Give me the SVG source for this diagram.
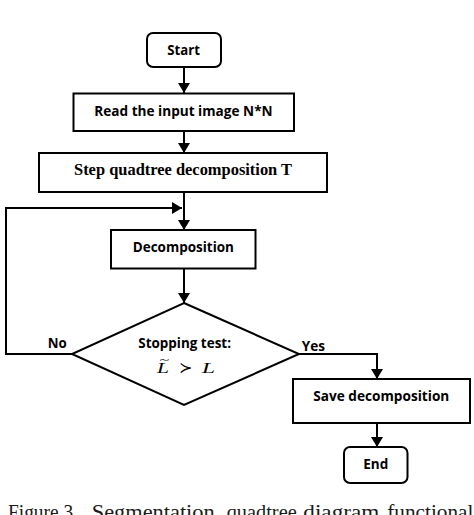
<svg xmlns="http://www.w3.org/2000/svg" width="474" height="515" viewBox="0 0 474 515">
<style>
.box{fill:#fff;stroke:#000;stroke-width:2}
.ln{fill:none;stroke:#000;stroke-width:2}
.sans{font-family:"Open Sans","Liberation Sans",sans-serif;font-weight:bold;font-size:14px;fill:#000}
.serifb{font-family:"Liberation Serif","Times New Roman",serif;font-weight:bold;font-size:16px;fill:#000}
.math{font-family:"Liberation Serif","Times New Roman",serif;font-style:italic;font-size:15px;fill:#000}
.cap{font-family:"Liberation Serif","Times New Roman",serif;font-size:21px;fill:#1a1a1a}
</style>
<defs>
<marker id="ah" markerUnits="userSpaceOnUse" markerWidth="12" markerHeight="12" refX="10" refY="6" orient="auto">
<path d="M0,0 L10,6 L0,12 Z" fill="#000"/>
</marker>
</defs>
<rect width="474" height="515" fill="#fff"/>
<g id="connectors">
<line class="ln" x1="184" y1="67" x2="184" y2="93" marker-end="url(#ah)"/>
<line class="ln" x1="184" y1="131" x2="184" y2="153" marker-end="url(#ah)"/>
<line class="ln" x1="184" y1="192" x2="184" y2="230" marker-end="url(#ah)"/>
<polyline class="ln" points="72,354 6,354 6,208 182,208" marker-end="url(#ah)"/>
<line class="ln" x1="184" y1="269" x2="184" y2="303" marker-end="url(#ah)"/>
<polyline class="ln" points="299,354 377,354 377,379" marker-end="url(#ah)"/>
<line class="ln" x1="377" y1="423" x2="377" y2="447" marker-end="url(#ah)"/>
<text class="sans" x="47.7" y="348.3" textLength="19" lengthAdjust="spacingAndGlyphs">No</text>
<text class="sans" x="301.7" y="350.5" textLength="23.3" lengthAdjust="spacingAndGlyphs">Yes</text>
</g>
<g id="start">
<rect class="box" x="147" y="33" width="74" height="34" rx="6"/>
<text class="sans" x="167.3" y="55" textLength="32.7" lengthAdjust="spacingAndGlyphs">Start</text>
</g>
<g id="read">
<rect class="box" x="73.5" y="93.5" width="220.5" height="37.5"/>
<text class="sans" x="94.3" y="115.7" textLength="178.3" lengthAdjust="spacingAndGlyphs">Read the input image N*N</text>
</g>
<g id="step">
<rect class="box" x="39" y="153" width="288" height="39"/>
<text class="serifb" x="74" y="175" textLength="218" lengthAdjust="spacingAndGlyphs">Step quadtree decomposition T</text>
</g>
<g id="decomposition">
<rect class="box" x="111" y="230" width="144.5" height="38.5"/>
<text class="sans" x="132.7" y="252.3" textLength="101.3" lengthAdjust="spacingAndGlyphs">Decomposition</text>
</g>
<g id="test">
<polygon class="box" points="184,303 299,354 184,405 72,354"/>
<text class="sans" x="138.3" y="347.5" textLength="92.7" lengthAdjust="spacingAndGlyphs">Stopping test:</text>
<text class="math" x="157" y="373.3" textLength="12" lengthAdjust="spacingAndGlyphs">L</text>
<text transform="translate(159.5,362.5) scale(1.3,0.8)" style="font-family:'Liberation Serif',serif;font-size:14px">~</text>
<text x="179.3" y="373.3" style="font-family:'DejaVu Serif',serif;font-size:16px">≻</text>
<text class="math" x="202" y="373.3" textLength="13" lengthAdjust="spacingAndGlyphs">L</text>
</g>
<g id="save">
<rect class="box" x="293" y="379" width="177" height="44"/>
<text class="sans" x="313.3" y="400.7" textLength="136" lengthAdjust="spacingAndGlyphs">Save decomposition</text>
</g>
<g id="end">
<rect class="box" x="344" y="447" width="63.5" height="36" rx="6"/>
<text class="sans" x="363.3" y="469.3" textLength="25" lengthAdjust="spacingAndGlyphs">End</text>
</g>
<g id="caption" class="cap">
<text x="8" y="519" textLength="70" lengthAdjust="spacingAndGlyphs">Figure 3.</text>
<text x="91.7" y="519" textLength="123" lengthAdjust="spacingAndGlyphs">Segmentation</text>
<text x="226.7" y="519" textLength="70" lengthAdjust="spacingAndGlyphs">quadtree</text>
<text x="303.3" y="519" textLength="76" lengthAdjust="spacingAndGlyphs">diagram</text>
<text x="387.3" y="519" textLength="86" lengthAdjust="spacingAndGlyphs">functional</text>
</g>
</svg>
